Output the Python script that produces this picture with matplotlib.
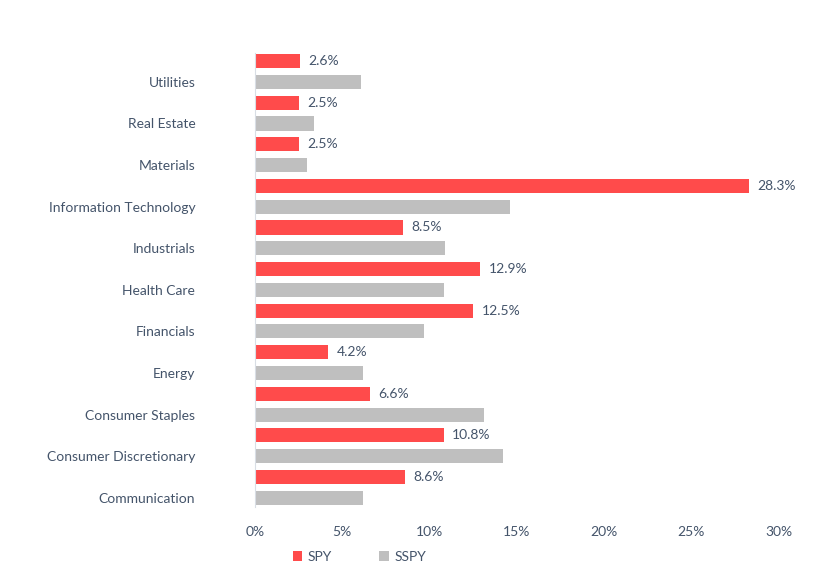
import matplotlib.pyplot as plt
import numpy as np

sectors = ["Communication", "Consumer Discretionary", "Consumer Staples", "Energy",
           "Financials", "Health Care", "Industrials", "Information Technology",
           "Materials", "Real Estate", "Utilities"]
spy = [8.6, 10.8, 6.6, 4.2, 12.5, 12.9, 8.5, 28.3, 2.5, 2.5, 2.6]
sspy = [6.2, 14.2, 13.1, 6.2, 9.7, 10.8, 10.9, 14.6, 3.0, 3.4, 6.1]
xticks = [0, 5, 10, 15, 20, 25, 30]

red = "#FF4B4B"
gray = "#BFBFBF"
txt = "#44546A"

plt.rcParams['font.family'] = ['Lato', 'DejaVu Sans']

fig = plt.figure(figsize=(8.26, 5.78), dpi=100)
ax = fig.add_axes([0.3087, 0.123, 0.634, 0.785])

y = np.arange(len(sectors))
h = 0.34
ax.barh(y + 0.5, spy, height=h, color=red, label="SPY")
ax.barh(y, sspy, height=h, color=gray, label="SSPY")

for yi, v in zip(y, spy):
    ax.annotate(f"{v:.1f}%", (v, yi + 0.5), xytext=(6, 0), textcoords="offset points",
                va="center", ha="left", fontsize=10, color=txt)

ax.set_xlim(0, 30)
ax.set_ylim(-0.22, 10.69)
ax.set_xticks(xticks)
ax.set_xticklabels([f"{t}%" for t in xticks])
ax.set_yticks(y)
ax.set_yticklabels(sectors)
ax.tick_params(axis="x", length=0, pad=14, labelsize=10, labelcolor=txt)
ax.tick_params(axis="y", length=0, pad=43, labelsize=10, labelcolor=txt)
for s in ["top", "right", "bottom"]:
    ax.spines[s].set_visible(False)
ax.spines["left"].set_color("#D9DEE5")

ax.legend(loc="upper left", bbox_to_anchor=(0.048, -0.07), ncol=2, frameon=False,
          fontsize=10, labelcolor=txt, handlelength=0.7, handleheight=0.7,
          handletextpad=0.4, columnspacing=3.4)

fig.savefig("out.png", dpi=100)
